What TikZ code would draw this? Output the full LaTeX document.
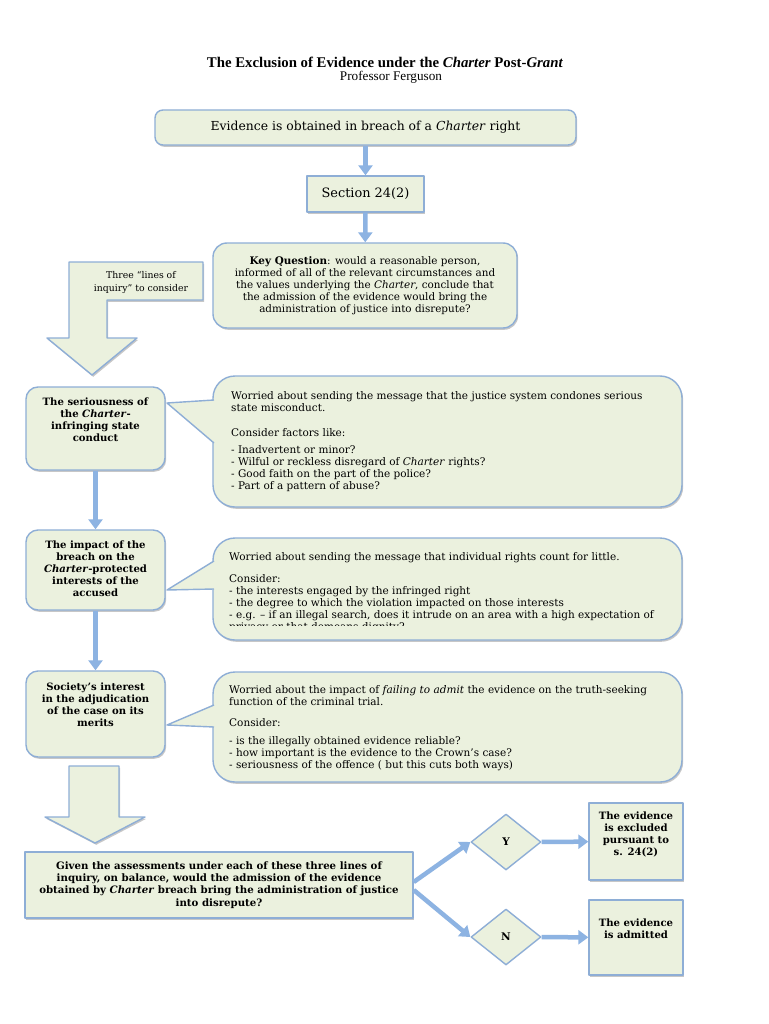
\documentclass[tikz,border=0pt]{standalone}
\usepackage{fontspec}
\setmainfont{DejaVu Serif}
\newfontfamily\titlefont{Liberation Serif}
\usepackage{tikz}
\usetikzlibrary{arrows.meta,shadows,shapes.geometric,positioning}

\definecolor{boxfill}{HTML}{EBF1DE}
\definecolor{boxline}{HTML}{8EAED6}
\definecolor{flowblue}{HTML}{8DB3E2}

\begin{document}
\begin{tikzpicture}[x=1pt,y=-1pt,line join=round,>={Triangle[length=10pt,width=14pt]}]
        \tikzstyle{boxshadow}=[drop shadow={shadow xshift=1.2pt,shadow yshift=-1.8pt,opacity=0.22,fill=black}]
        \tikzstyle{roundbox}=[draw=boxline,fill=boxfill,line width=1.4pt,rounded corners=12pt,boxshadow,inner sep=0pt]
        \tikzstyle{squarebox}=[draw=boxline,fill=boxfill,line width=1.4pt,boxshadow,inner sep=0pt,align=center]
        \tikzstyle{callout}=[roundbox,rounded corners=22pt,minimum width=469pt]
        \tikzstyle{stepcard}=[roundbox,minimum width=139pt]
        \tikzstyle{steptext}=[inner sep=0pt,align=center,font=\bfseries\fontsize{10.1}{12}\selectfont]
        \tikzstyle{calltext}=[inner sep=0pt,anchor=north west,align=left,font=\fontsize{10.5}{12}\selectfont]
        \tikzstyle{flowarrow}=[->,draw=flowblue,line width=4.5pt]
        \tikzstyle{bigarrow}=[draw=boxline,fill=boxfill,line width=1.4pt,boxshadow]
        \tikzstyle{choice}=[diamond,draw=boxline,fill=boxfill,line width=1.4pt,minimum width=70pt,minimum height=56pt,inner sep=0pt,font=\bfseries\fontsize{10.5}{12}\selectfont]
    \useasboundingbox (0,0) rectangle (768,1024);
    \fill[white] (0,0) rectangle (768,1024);

    % title
    \node[inner sep=0pt,font=\titlefont\bfseries\fontsize{14.8}{16}\selectfont] (title) at (385,62) {The Exclusion of Evidence under the \emph{Charter} Post-\emph{Grant}};
    \node[inner sep=0pt,font=\titlefont\fontsize{13.2}{15}\selectfont] (author) at (391,77) {Professor Ferguson};

    % top of the chart
    \node[roundbox,rounded corners=8pt,minimum width=421pt,minimum height=35pt,font=\fontsize{12.4}{14}\selectfont] (breach) at (365.5,127.5) {Evidence is obtained in breach of a \emph{Charter} right};
    \node[squarebox,minimum width=117pt,minimum height=36pt,font=\fontsize{12.9}{14}\selectfont] (sec) at (365.5,194) {Section 24(2)};
    \node[roundbox,rounded corners=14pt,minimum width=304pt,minimum height=85pt,align=center,font=\fontsize{10.4}{12}\selectfont] (keyq) at (365,285.5) {\textbf{Key Question}: would a reasonable person,\\ informed of all of the relevant circumstances and\\ the values underlying the \emph{Charter}, conclude that\\ the admission of the evidence would bring the\\ administration of justice into disrepute?};
    \path[flowarrow] (breach) -- (sec);
    \path[flowarrow] (sec) -- (keyq);

    % the bent block arrow
    \path[bigarrow] (69,262) -- (203,262) -- (203,300) -- (107,300) -- (107,338) -- (137,338) -- (92,375) -- (47,338) -- (69,338) -- cycle;
    \node[inner sep=0pt,align=center,font=\fontsize{9.3}{13}\selectfont] (lines) at (141,282.5) {Three “lines of\\ inquiry” to consider};

    % the three lines of inquiry
    \node[stepcard,minimum height=83pt] (serious) at (95.5,428.5) {};
    \node[stepcard,minimum height=80pt] (impact) at (95.5,570) {};
    \node[stepcard,minimum height=86pt] (society) at (95.5,714) {};
    \node[steptext,below=11pt of serious.north] (serioustext) {The seriousness of\\ the \emph{Charter}-\\ infringing state\\ conduct};
    \node[steptext,below=11pt of impact.north] (impacttext) {The impact of the\\ breach on the\\ \emph{Charter}-protected\\ interests of the\\ accused};
    \node[steptext,below=12pt of society.north] (societytext) {Society’s interest\\ in the adjudication\\ of the case on its\\ merits};
    \path[flowarrow] (serious) -- (impact);
    \path[flowarrow] (impact) -- (society);

    % callouts
    \node[callout,minimum height=131pt] (worry1) at (447.5,441.5) {};
    \node[callout,minimum height=102pt] (worry2) at (447.5,589) {};
    \node[callout,minimum height=110pt] (worry3) at (447.5,727) {};
    \fill[boxfill] (213,400) -- (167,403) -- (213,443) -- (216,443) -- (216,400) -- cycle;
    \draw[boxline,line width=1.4pt] (214,400) -- (167,403) -- (214,443);
    \fill[boxfill] (213,561) -- (167,590) -- (213,589) -- (216,589) -- (216,561) -- cycle;
    \draw[boxline,line width=1.4pt] (214,561) -- (167,590) -- (214,589);
    \fill[boxfill] (213,705) -- (167,725) -- (213,727) -- (216,727) -- (216,705) -- cycle;
    \draw[boxline,line width=1.4pt] (214,705) -- (167,725) -- (214,727);

    \node[calltext] (worry1text) at (231,391) {Worried about sending the message that the justice system condones serious\\
    state misconduct.\\[13pt]
    Consider factors like:\\[5pt]
    - Inadvertent or minor?\\
    - Wilful or reckless disregard of \emph{Charter} rights?\\
    - Good faith on the part of the police?\\
    - Part of a pattern of abuse?};
    \begin{scope}
        \clip (213,540) rectangle (682,625);
        \node[calltext] (worry2text) at (229,552) {Worried about sending the message that individual rights count for little.\\[10pt]
        Consider:\\
        - the interests engaged by the infringed right\\
        - the degree to which the violation impacted on those interests\\
        - e.g. – if an illegal search, does it intrude on an area with a high expectation of\\
        privacy or that demeans dignity?};
    \end{scope}
    \node[calltext] (worry3text) at (229,685) {Worried about the impact of \emph{failing to admit} the evidence on the truth-seeking\\
    function of the criminal trial.\\[9pt]
    Consider:\\[6pt]
    - is the illegally obtained evidence reliable?\\
    - how important is the evidence to the Crown’s case?\\
    - seriousness of the offence ( but this cuts both ways)};

    % second block arrow
    \path[bigarrow] (69,766) -- (119,766) -- (119,817) -- (145,817) -- (95,843) -- (45,817) -- (69,817) -- cycle;

    % the balance and the outcome
    \node[squarebox,minimum width=388pt,minimum height=66pt,font=\bfseries\fontsize{10.2}{12.3}\selectfont] (balance) at (219,885) {Given the assessments under each of these three lines of\\ inquiry, on balance, would the admission of the evidence\\ obtained by \emph{Charter} breach bring the administration of justice\\ into disrepute?};
    \node[choice] (yes) at (506,842) {Y};
    \node[choice] (no) at (506,937) {N};
    \node[squarebox,minimum width=94pt,minimum height=77pt] (excluded) at (636,841.5) {};
    \node[squarebox,minimum width=94pt,minimum height=75pt] (admitted) at (636,937.5) {};
    \node[steptext,below=9pt of excluded.north] (excludedtext) {The evidence\\ is excluded\\ pursuant to\\ s. 24(2)};
    \node[steptext,below=19pt of admitted.north] (admittedtext) {The evidence\\ is admitted};

    \path[flowarrow] ([yshift=3pt]balance.east) -- (yes.west);
    \path[flowarrow] ([yshift=-5pt]balance.east) -- (no.west);
    \path[flowarrow] (yes) -- (excluded);
    \path[flowarrow] (no) -- (admitted);
\end{tikzpicture}
\end{document}
